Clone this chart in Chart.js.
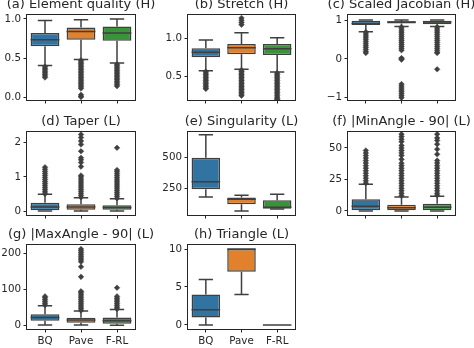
<!DOCTYPE html>
<html>
<head>
<meta charset="utf-8">
<script src="https://cdn.jsdelivr.net/npm/chart.js@4"></script>
<style>
  html, body { margin: 0; padding: 0; background: #fff; }
  #figure { position: relative; width: 474px; height: 348px; overflow: hidden; }
  #figure canvas { position: absolute; }
</style>
</head>
<body>
<div id="figure"></div>
<script>
var groups = ['BQ', 'Pave', 'F-RL'];
var boxColors = ['#3274a1', '#e1812c', '#3a923a'];

// one row per group: [lower whisker, q1, median, q3, upper whisker]
var qualityStats = [[0.405, 0.65, 0.735, 0.82, 0.98], [0.48, 0.735, 0.84, 0.89, 0.99], [0.435, 0.72, 0.82, 0.905, 1.0]];
var qualityOutliers = [
  [0.39, 0.37, 0.35, 0.33, 0.31, 0.29, 0.27, 0.25],
  [0.47, 0.45, 0.43, 0.41, 0.39, 0.37, 0.35, 0.33, 0.31, 0.29, 0.27, 0.25, 0.23, 0.21, 0.19, 0.17, 0.15, 0.13, 0.11, 0.03, 0.01, 0.0],
  [0.42, 0.40, 0.38, 0.36, 0.34, 0.32, 0.30, 0.28, 0.26, 0.24, 0.22, 0.20, 0.18, 0.16, 0.14]
];
var qualityTicks = [0, 0.5, 1];
var qualityTickLabels = ['0.0', '0.5', '1.0'];

var stretchStats = [[0.57, 0.748, 0.814, 0.867, 0.977], [0.589, 0.79, 0.875, 0.924, 1.074], [0.553, 0.779, 0.862, 0.924, 1.008]];
var stretchOutliers = [
  [0.56, 0.54, 0.52, 0.50, 0.48, 0.46, 0.44, 0.42, 0.40, 0.38, 0.36, 0.34, 0.33],
  [1.27, 1.24, 1.21, 1.18, 0.58, 0.56, 0.54, 0.52, 0.50, 0.48, 0.46, 0.44, 0.42, 0.40, 0.38, 0.36, 0.34, 0.32, 0.30, 0.28, 0.26, 0.24],
  [0.54, 0.52, 0.50, 0.48, 0.46, 0.44, 0.42, 0.40, 0.38, 0.36, 0.34, 0.32, 0.30, 0.28, 0.26, 0.24, 0.22, 0.20, 0.19]
];
var stretchTicks = [0.5, 1];
var stretchTickLabels = ['0.5', '1.0'];

var jacobianStats = [[0.70, 0.87, 0.91, 0.98, 1.0], [0.83, 0.91, 0.95, 0.97, 1.0], [0.83, 0.89, 0.95, 0.98, 1.0]];
var jacobianOutliers = [
  [0.69, 0.64, 0.59, 0.54, 0.49, 0.44, 0.39, 0.34, 0.29, 0.24, 0.19, 0.15],
  [0.82, 0.77, 0.72, 0.67, 0.62, 0.57, 0.52, 0.47, 0.42, 0.37, 0.32, 0.27, 0.22, 0.02, 0.0, -0.02, -0.65, -0.70, -0.75, -0.80, -0.85, -0.90, -0.95, -1.0],
  [0.82, 0.77, 0.72, 0.67, 0.62, 0.57, 0.52, 0.47, 0.42, 0.37, 0.32, 0.27, 0.22, 0.17, 0.15, -0.27]
];
var jacobianTicks = [-1, 0, 1];
var jacobianTickLabels = ['\u22121', '0', '1'];

var taperStats = [[0, 0.02, 0.12, 0.245, 0.49], [0, 0.04, 0.12, 0.2, 0.39], [0, 0.04, 0.1, 0.17, 0.36]];
var taperOutliers = [
  [0.5, 0.56, 0.62, 0.68, 0.74, 0.8, 0.86, 0.92, 0.98, 1.04, 1.1, 1.16, 1.22, 1.28],
  [0.4, 0.46, 0.52, 0.58, 0.64, 0.7, 0.76, 0.82, 0.88, 0.94, 1.0, 1.04, 1.3, 1.42, 1.5, 1.56, 1.75, 1.95, 2.05, 2.15, 2.24],
  [0.37, 0.43, 0.49, 0.55, 0.61, 0.67, 0.73, 0.79, 0.85, 0.91, 0.97, 1.03, 1.09, 1.15, 1.2, 1.85]
];
var taperTicks = [0, 1, 2];
var taperTickLabels = ['0', '1', '2'];

var singularityStats = [[183, 245, 305, 500, 685], [70, 124, 165, 180, 197], [86, 89, 100, 156, 205]];
var singularityOutliers = [[], [], []];
var singularityTicks = [250, 500];
var singularityTickLabels = ['250', '500'];

var minAngleStats = [[0, 0.5, 3.7, 9.3, 21.2], [0, 0.5, 2.6, 5.0, 11.1], [0, 0.5, 3.0, 5.8, 11.7]];
var minAngleOutliers = [
  [22, 24, 26, 28, 30, 32, 34, 36, 38, 40, 42, 44, 46, 48],
  [12, 14, 16, 18, 20, 22, 24, 26, 28, 30, 32, 34, 36, 38, 41, 44, 46, 48, 50, 52, 55, 57, 59, 61],
  [12.5, 14, 16, 18, 20, 22, 24, 26, 28, 30, 32, 34, 36, 38, 40, 45, 49, 53, 56, 58, 61]
];
var minAngleTicks = [0, 25, 50];
var minAngleTickLabels = ['0', '25', '50'];

var maxAngleStats = [[2, 14, 23, 31.5, 55], [2, 8, 15.7, 22, 40.6], [1, 5.5, 14, 23, 45]];
var maxAngleOutliers = [
  [57, 62, 67, 72, 77, 81],
  [42, 47, 52, 57, 62, 67, 72, 77, 82, 87, 92, 95, 135, 163, 177, 182, 187, 192, 197, 202, 207, 212],
  [46, 51, 56, 61, 66, 71, 76, 81, 105]
];
var maxAngleTicks = [0, 100, 200];
var maxAngleTickLabels = ['0', '100', '200'];

var triangleStats = [[0, 1, 2, 4, 6], [4, 7, 10, 10, 10], [0, 0, 0, 0, 0]];
var triangleOutliers = [[], [], []];
var triangleTicks = [0, 5, 10];
var triangleTickLabels = ['0', '5', '10'];

var panels = [
  { title: '(a) Element quality (H)', stats: qualityStats, outliers: qualityOutliers, ticks: qualityTicks, labels: qualityTickLabels, range: [-0.038, 1.051], frame: [27, 15, 135, 100], showX: false },
  { title: '(b) Stretch (H)', stats: stretchStats, outliers: stretchOutliers, ticks: stretchTicks, labels: stretchTickLabels, range: [0.182, 1.309], frame: [188, 15, 295, 100], showX: false },
  { title: '(c) Scaled Jacobian (H)', stats: jacobianStats, outliers: jacobianOutliers, ticks: jacobianTicks, labels: jacobianTickLabels, range: [-1.06, 1.129], frame: [348, 15, 455, 100], showX: false },
  { title: '(d) Taper (L)', stats: taperStats, outliers: taperOutliers, ticks: taperTicks, labels: taperTickLabels, range: [-0.117, 2.313], frame: [27, 132, 135, 215], showX: false },
  { title: '(e) Singularity (L)', stats: singularityStats, outliers: singularityOutliers, ticks: singularityTicks, labels: singularityTickLabels, range: [38, 707], frame: [188, 132, 295, 215], showX: false },
  { title: '(f) |MinAngle - 90| (L)', stats: minAngleStats, outliers: minAngleOutliers, ticks: minAngleTicks, labels: minAngleTickLabels, range: [-3.2, 62.7], frame: [348, 132, 455, 215], showX: false },
  { title: '(g) |MaxAngle - 90| (L)', stats: maxAngleStats, outliers: maxAngleOutliers, ticks: maxAngleTicks, labels: maxAngleTickLabels, range: [-9.1, 223], frame: [27, 245, 135, 329], showX: true },
  { title: '(h) Triangle (L)', stats: triangleStats, outliers: triangleOutliers, ticks: triangleTicks, labels: triangleTickLabels, range: [-0.53, 10.53], frame: [188, 245, 295, 329], showX: true }
];

var lineColor = '#3f3f3f';
var textColor = '#262626';
var fontFamily = "'DejaVu Sans', sans-serif";
var titleH = 17;
var axisW = 34;
var axisH = 22;

function boxLines(stats) {
  return {
    id: 'boxLines',
    afterDatasetsDraw: function (chart) {
      var meta = chart.getDatasetMeta(0);
      var y = chart.scales.y;
      var ctx = chart.ctx;
      ctx.save();
      ctx.strokeStyle = lineColor;
      ctx.lineWidth = 1.5;
      meta.data.forEach(function (bar, i) {
        var s = stats[i];
        var half = bar.width / 2;
        var cap = bar.width / 4;
        var lo = y.getPixelForValue(s[0]);
        var q1 = y.getPixelForValue(s[1]);
        var med = y.getPixelForValue(s[2]);
        var q3 = y.getPixelForValue(s[3]);
        var hi = y.getPixelForValue(s[4]);
        ctx.beginPath();
        ctx.moveTo(bar.x, q1); ctx.lineTo(bar.x, lo);
        ctx.moveTo(bar.x - cap, lo); ctx.lineTo(bar.x + cap, lo);
        ctx.moveTo(bar.x, q3); ctx.lineTo(bar.x, hi);
        ctx.moveTo(bar.x - cap, hi); ctx.lineTo(bar.x + cap, hi);
        ctx.moveTo(bar.x - half, med); ctx.lineTo(bar.x + half, med);
        ctx.stroke();
      });
      ctx.restore();
    }
  };
}

// frame on all four sides plus a title centred over the plot area
function frameAndTitle(title) {
  return {
    id: 'frameAndTitle',
    afterDraw: function (chart) {
      var a = chart.chartArea;
      var ctx = chart.ctx;
      ctx.save();
      ctx.strokeStyle = '#262626';
      ctx.lineWidth = 1;
      ctx.strokeRect(a.left - 0.5, a.top - 0.5, a.right - a.left + 1, a.bottom - a.top + 1);
      ctx.fillStyle = textColor;
      ctx.font = '13px ' + fontFamily;
      ctx.textAlign = 'center';
      ctx.textBaseline = 'middle';
      ctx.fillText(title, (a.left + a.right) / 2, a.top - 10.5);
      ctx.restore();
    }
  };
}

var figure = document.getElementById('figure');

panels.forEach(function (panel) {
  var f = panel.frame;
  var canvas = document.createElement('canvas');
  canvas.width = f[2] - f[0] + 2 * axisW;
  canvas.height = f[3] - f[1] + titleH + axisH;
  canvas.style.left = (f[0] - axisW) + 'px';
  canvas.style.top = (f[1] - titleH) + 'px';
  canvas.setAttribute('role', 'img');
  canvas.setAttribute('aria-label', panel.title);
  figure.appendChild(canvas);

  var points = [];
  panel.outliers.forEach(function (list, i) {
    list.forEach(function (v) {
      points.push({ x: groups[i], y: v });
    });
  });

  new Chart(canvas, {
    type: 'bar',
    data: {
      labels: groups,
      datasets: [{
        data: panel.stats.map(function (s) { return [s[1], s[3]]; }),
        backgroundColor: boxColors,
        borderColor: lineColor,
        borderWidth: 1.5,
        borderSkipped: false,
        barPercentage: 0.8,
        categoryPercentage: 1
      }, {
        type: 'line',
        data: points,
        showLine: false,
        pointStyle: 'rectRot',
        pointRadius: 2.8,
        pointBackgroundColor: lineColor,
        pointBorderColor: lineColor,
        pointBorderWidth: 0.5
      }]
    },
    options: {
      responsive: false,
      animation: false,
      events: [],
      layout: { padding: { left: 0, right: axisW, top: titleH, bottom: 0 } },
      plugins: {
        legend: { display: false },
        tooltip: { enabled: false },
        title: { display: false }
      },
      scales: {
        x: {
          type: 'category',
          offset: true,
          afterFit: function (scale) { scale.height = axisH; },
          grid: { offset: false, drawOnChartArea: false, drawTicks: true, tickLength: 3.5, color: '#262626', lineWidth: 1 },
          border: { display: false },
          ticks: { display: panel.showX, color: textColor, padding: 3, font: { family: fontFamily, size: 10.3 } }
        },
        y: {
          type: 'linear',
          min: panel.range[0],
          max: panel.range[1],
          afterFit: function (scale) { scale.width = axisW; },
          afterBuildTicks: function (scale) {
            scale.ticks = panel.ticks.map(function (v) { return { value: v }; });
          },
          grid: { drawOnChartArea: false, drawTicks: true, tickLength: 3.5, color: '#262626', lineWidth: 1 },
          border: { display: false },
          ticks: {
            color: textColor,
            padding: 2.5,
            font: { family: fontFamily, size: 10.3 },
            callback: function (value, index) { return panel.labels[index]; }
          }
        }
      }
    },
    plugins: [boxLines(panel.stats), frameAndTitle(panel.title)]
  });
});
</script>
</body>
</html>
